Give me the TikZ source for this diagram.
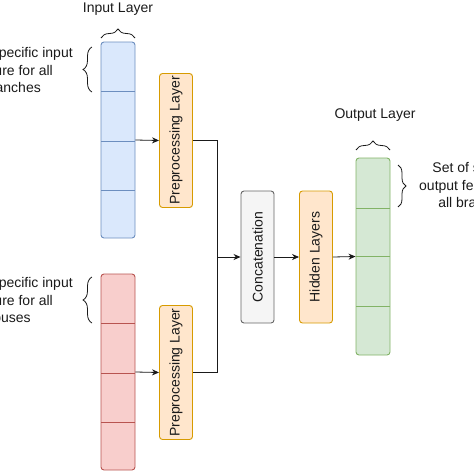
\documentclass[tikz,border=0pt]{standalone}
\usepackage{fontspec}
\setmainfont{Liberation Sans}
\usetikzlibrary{arrows.meta,decorations.pathreplacing}
\definecolor{bfill}{HTML}{DAE8FC}\definecolor{bline}{HTML}{6C8EBF}
\definecolor{rfill}{HTML}{F8CECC}\definecolor{rline}{HTML}{B85450}
\definecolor{gfill}{HTML}{D5E8D4}\definecolor{gline}{HTML}{82B366}
\definecolor{ofill}{HTML}{FFE6CC}\definecolor{oline}{HTML}{D79B00}
\definecolor{cfill}{HTML}{F5F5F5}\definecolor{cline}{HTML}{666666}
\definecolor{txt}{HTML}{1A1A1A}
\tikzset{
  col/.style={draw=#1line, fill=#1fill, line width=0.9pt, rounded corners=3pt,
    minimum width=34pt, minimum height=196pt, inner sep=0pt},
  vbox/.style={draw=#1line, fill=#1fill, line width=0.9pt, rounded corners=3pt,
    minimum width=134pt, minimum height=33pt, rotate=90, inner sep=0pt,
    font=\fontsize{14}{17}\selectfont, text=txt},
  conn/.style={line width=0.8pt, draw=txt},
  arr/.style={conn, -{Stealth[length=7pt,width=6pt]}},
  brc/.style={draw=txt, line width=0.8pt, decorate,
    decoration={brace, amplitude=#1}},
  lbl/.style={font=\fontsize{14}{17.5}\selectfont, text=txt, align=center, inner sep=0pt}
}
\begin{document}
\begin{tikzpicture}[x=1pt,y=-1pt]
\useasboundingbox (0,0) rectangle (474,474);
\clip (0,0) rectangle (474,474);
% columns
\node[col=b] (bcol) at (118,140) {};
\node[col=r] (rcol) at (118,372) {};
\node[col=g, minimum height=197pt] (gcol) at (373,256.5) {};
\foreach \y in {91,141,190} \draw[bline, line width=0.7pt] (101,\y) -- (135,\y);
\foreach \y in {323,373,422} \draw[rline, line width=0.7pt] (101,\y) -- (135,\y);
\foreach \y in {208,256,306} \draw[gline, line width=0.7pt] (356,\y) -- (390,\y);
% boxes
\node[vbox=o] (pre1) at (176,140.5) {Preprocessing Layer};
\node[vbox=o] (pre2) at (176,372.5) {Preprocessing Layer};
\node[vbox=c, minimum width=132pt] (cat) at (257.5,257) {Concatenation};
\node[vbox=o, minimum width=132pt] (hid) at (316,257) {Hidden Layers};
% connectors
\coordinate (jn) at (217,257);
\draw[arr] (bcol.east) -- (pre1.north);
\draw[arr] (rcol.east) -- (pre2.north);
\draw[conn] (pre1.south) -| (jn);
\draw[conn] (pre2.south) -| (jn);
\draw[arr] (jn) -- (cat.north);
\draw[arr] (cat.south) -- (hid.north);
\draw[arr] (hid.south) -- (gcol.west);
% labels
\node[lbl] (inl) at (118,9) {Input Layer};
\node[lbl] (outl) at (375,115) {Output Layer};
\node[lbl] (lt1) at (12,70) {Set of specific input\\feature for all\\branches};
\node[lbl] (lt2) at (12,300) {Set of specific input\\feature for all\\buses};
\node[lbl] (rt) at (476,185) {Set of specific\\output features for\\all branches};
% braces
\coordinate (b1a) at (101,38); \coordinate (b1b) at (135,38);
\draw[brc=9pt] (b1a) -- (b1b);
\coordinate (b2a) at (356,150); \coordinate (b2b) at (390,150);
\draw[brc=9pt] (b2a) -- (b2b);
\coordinate (b3a) at (92,92); \coordinate (b3b) at (92,47);
\draw[brc=9pt] (b3a) -- (b3b);
\coordinate (b4a) at (92,323); \coordinate (b4b) at (92,277);
\draw[brc=9pt] (b4a) -- (b4b);
\coordinate (b5a) at (398,165); \coordinate (b5b) at (398,207);
\draw[brc=8pt] (b5a) -- (b5b);
\end{tikzpicture}
\end{document}
